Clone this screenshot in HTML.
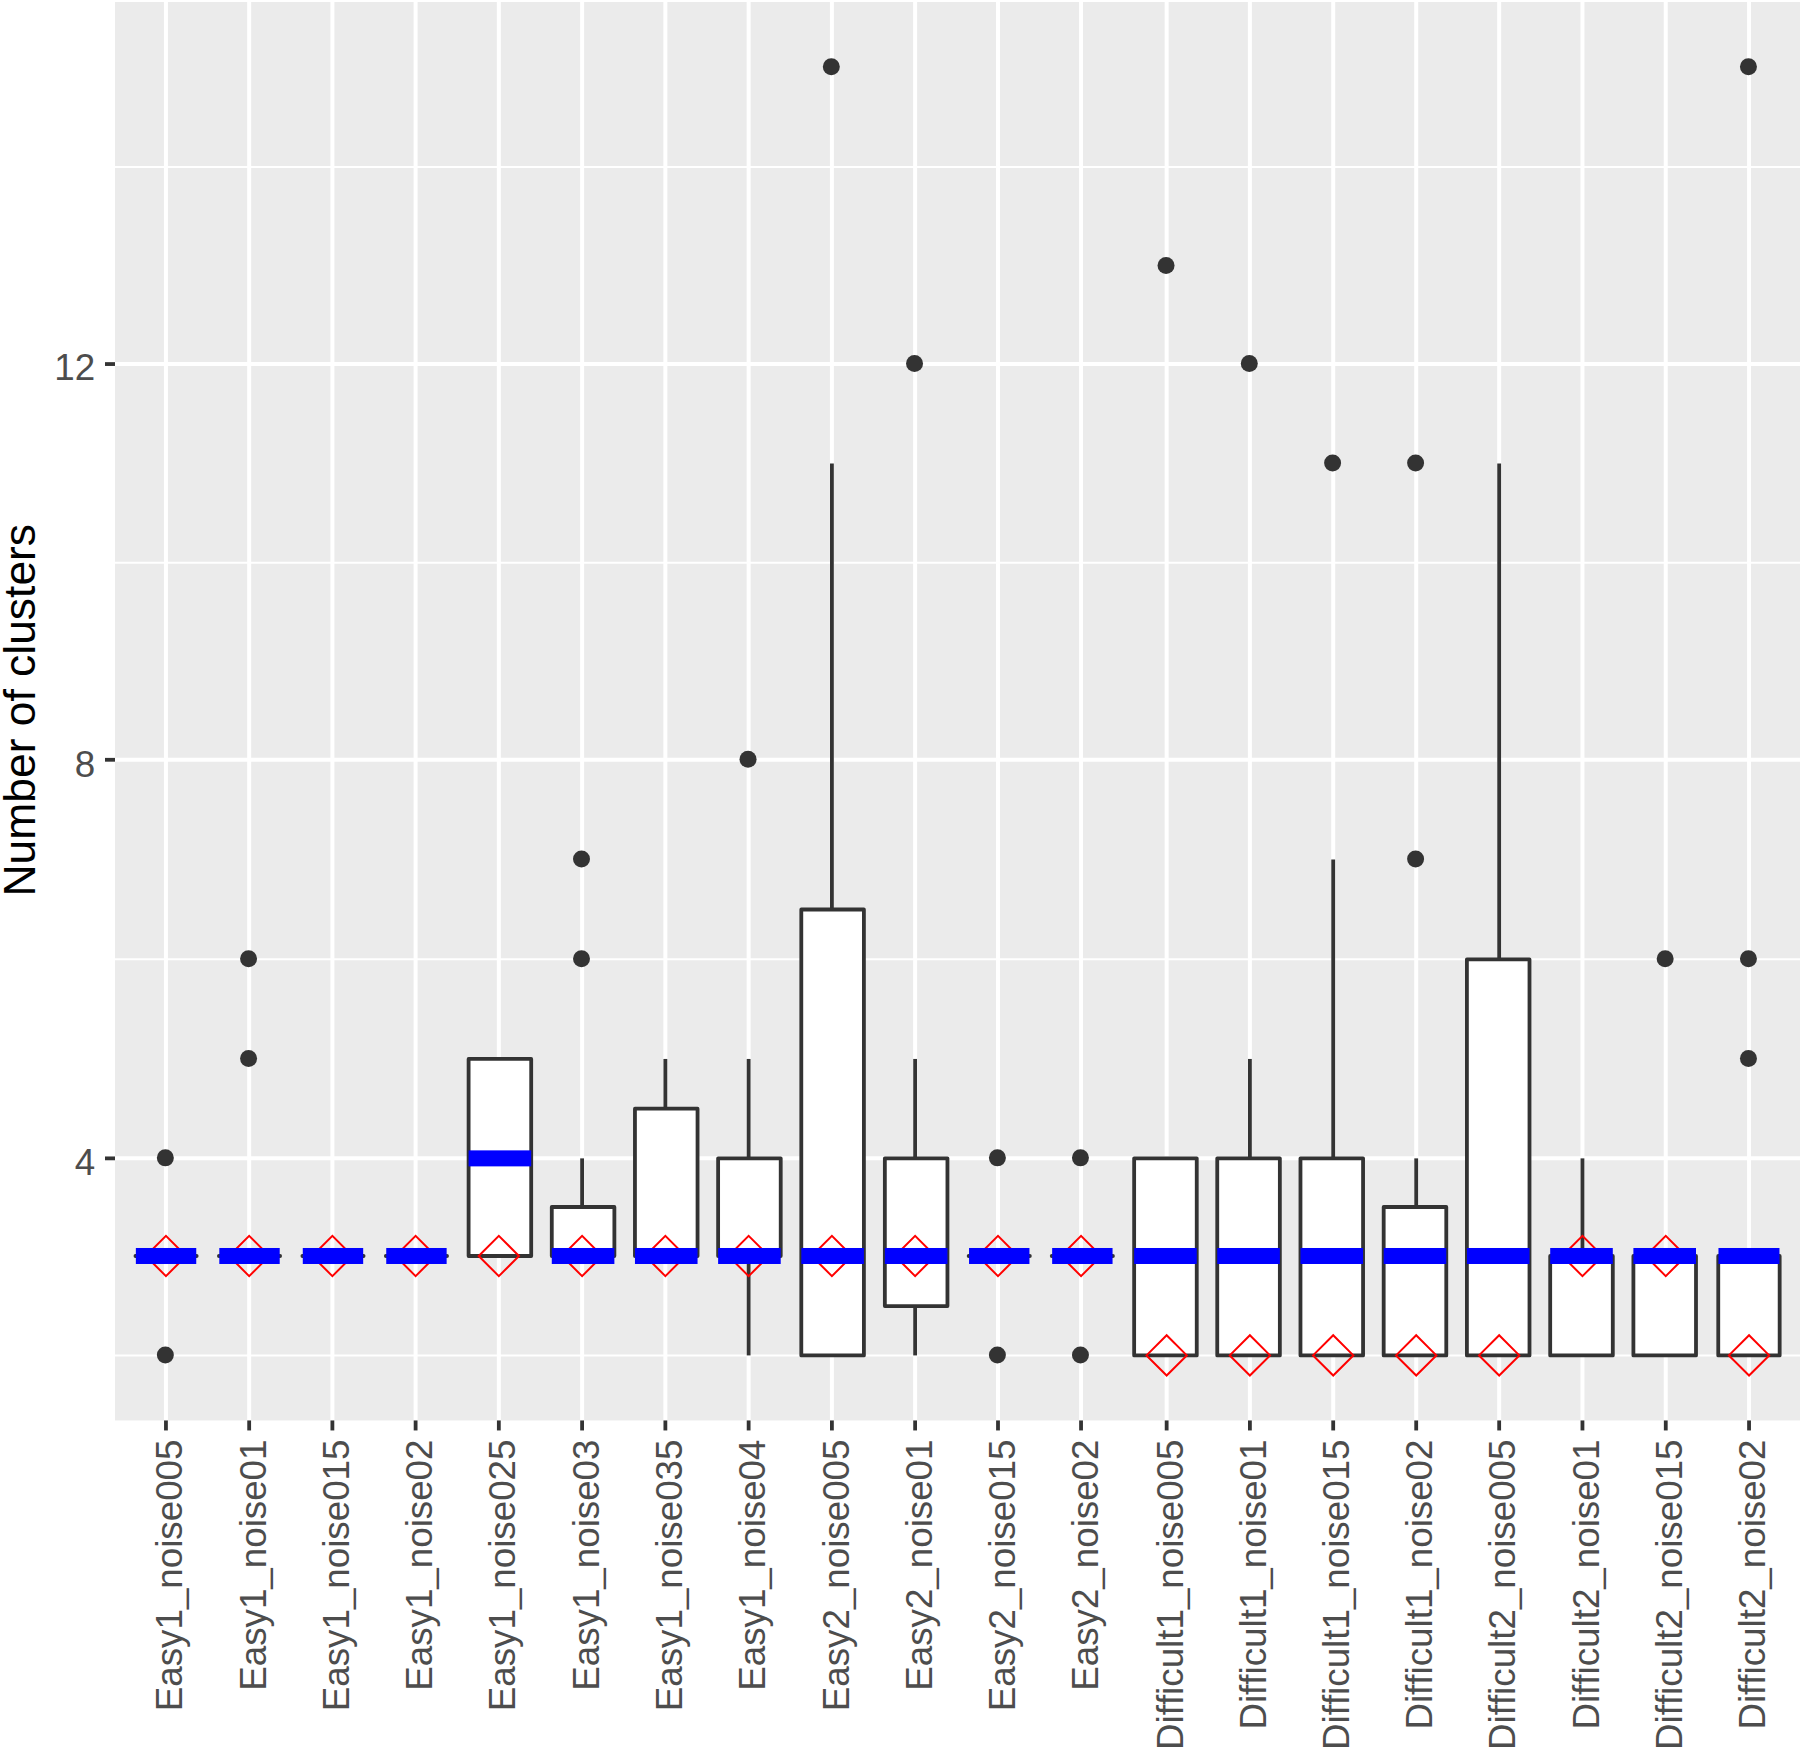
<!DOCTYPE html>
<html lang="en">
<head>
<meta charset="utf-8">
<title>Number of clusters</title>
<style>
html,body{margin:0;padding:0;background:#ffffff;}
body{width:1804px;height:1749px;overflow:hidden;}
svg{display:block;}
</style>
</head>
<body>
<svg width="1804" height="1749" viewBox="0 0 1804 1749">
<rect x="0" y="0" width="1804" height="1749" fill="#ffffff"/>
<rect x="115.0" y="2.0" width="1685.0" height="1418.45" fill="#EBEBEB"/>
<g stroke="#ffffff" stroke-width="2.0" fill="none">
<line x1="115.0" x2="1800.0" y1="1355.41" y2="1355.41"/>
<line x1="115.0" x2="1800.0" y1="959.28" y2="959.28"/>
<line x1="115.0" x2="1800.0" y1="562.70" y2="562.70"/>
<line x1="115.0" x2="1800.0" y1="166.92" y2="166.92"/>
</g>
<g stroke="#ffffff" stroke-width="4.0" fill="none">
<line x1="115.0" x2="1800.0" y1="1158.37" y2="1158.37"/>
<line x1="115.0" x2="1800.0" y1="759.79" y2="759.79"/>
<line x1="115.0" x2="1800.0" y1="364.06" y2="364.06"/>
<line x1="165.95" x2="165.95" y1="2.0" y2="1420.45"/>
<line x1="249.17" x2="249.17" y1="2.0" y2="1420.45"/>
<line x1="332.39" x2="332.39" y1="2.0" y2="1420.45"/>
<line x1="415.61" x2="415.61" y1="2.0" y2="1420.45"/>
<line x1="498.83" x2="498.83" y1="2.0" y2="1420.45"/>
<line x1="582.10" x2="582.10" y1="2.0" y2="1420.45"/>
<line x1="665.37" x2="665.37" y1="2.0" y2="1420.45"/>
<line x1="748.64" x2="748.64" y1="2.0" y2="1420.45"/>
<line x1="831.91" x2="831.91" y1="2.0" y2="1420.45"/>
<line x1="915.13" x2="915.13" y1="2.0" y2="1420.45"/>
<line x1="998.00" x2="998.00" y1="2.0" y2="1420.45"/>
<line x1="1081.05" x2="1081.05" y1="2.0" y2="1420.45"/>
<line x1="1166.65" x2="1166.65" y1="2.0" y2="1420.45"/>
<line x1="1249.90" x2="1249.90" y1="2.0" y2="1420.45"/>
<line x1="1333.20" x2="1333.20" y1="2.0" y2="1420.45"/>
<line x1="1416.20" x2="1416.20" y1="2.0" y2="1420.45"/>
<line x1="1499.17" x2="1499.17" y1="2.0" y2="1420.45"/>
<line x1="1582.46" x2="1582.46" y1="2.0" y2="1420.45"/>
<line x1="1665.76" x2="1665.76" y1="2.0" y2="1420.45"/>
<line x1="1749.05" x2="1749.05" y1="2.0" y2="1420.45"/>
</g>
<g stroke="#333333" stroke-width="3.8" fill="#ffffff" stroke-linejoin="round">
<circle cx="165.35" cy="1157.87" r="8.5" fill="#333333" stroke="none"/>
<circle cx="165.35" cy="1354.91" r="8.5" fill="#333333" stroke="none"/>
<line x1="135.45" x2="196.65" y1="1255.99" y2="1255.99" stroke-linecap="round"/>
<circle cx="248.57" cy="1058.45" r="8.5" fill="#333333" stroke="none"/>
<circle cx="248.57" cy="958.78" r="8.5" fill="#333333" stroke="none"/>
<line x1="218.91" x2="280.11" y1="1255.99" y2="1255.99" stroke-linecap="round"/>
<line x1="302.38" x2="363.58" y1="1255.99" y2="1255.99" stroke-linecap="round"/>
<line x1="385.84" x2="447.04" y1="1255.99" y2="1255.99" stroke-linecap="round"/>
<rect x="468.60" y="1058.95" width="62.6" height="197.04"/>
<circle cx="581.50" cy="958.78" r="8.5" fill="#333333" stroke="none"/>
<circle cx="581.50" cy="859.11" r="8.5" fill="#333333" stroke="none"/>
<line x1="582.10" x2="582.10" y1="1207.00" y2="1158.37"/>
<rect x="551.78" y="1207.00" width="62.6" height="48.99"/>
<line x1="665.37" x2="665.37" y1="1108.63" y2="1058.95"/>
<rect x="634.95" y="1108.63" width="62.6" height="147.36"/>
<circle cx="748.04" cy="759.29" r="8.5" fill="#333333" stroke="none"/>
<line x1="748.64" x2="748.64" y1="1158.37" y2="1058.95"/>
<line x1="748.64" x2="748.64" y1="1255.99" y2="1355.41"/>
<rect x="718.12" y="1158.37" width="62.6" height="97.62"/>
<circle cx="831.31" cy="66.70" r="8.5" fill="#333333" stroke="none"/>
<line x1="831.91" x2="831.91" y1="909.49" y2="463.48"/>
<rect x="801.30" y="909.49" width="62.6" height="445.92"/>
<circle cx="914.53" cy="363.56" r="8.5" fill="#333333" stroke="none"/>
<line x1="915.13" x2="915.13" y1="1158.37" y2="1058.95"/>
<line x1="915.13" x2="915.13" y1="1306.08" y2="1355.41"/>
<rect x="884.85" y="1158.37" width="62.6" height="147.71"/>
<circle cx="997.40" cy="1157.87" r="8.5" fill="#333333" stroke="none"/>
<circle cx="997.40" cy="1354.91" r="8.5" fill="#333333" stroke="none"/>
<line x1="968.65" x2="1029.85" y1="1255.99" y2="1255.99" stroke-linecap="round"/>
<circle cx="1080.45" cy="1157.87" r="8.5" fill="#333333" stroke="none"/>
<circle cx="1080.45" cy="1354.91" r="8.5" fill="#333333" stroke="none"/>
<line x1="1051.75" x2="1112.95" y1="1255.99" y2="1255.99" stroke-linecap="round"/>
<circle cx="1166.05" cy="265.39" r="8.5" fill="#333333" stroke="none"/>
<rect x="1134.15" y="1158.37" width="62.6" height="197.04"/>
<circle cx="1249.30" cy="363.56" r="8.5" fill="#333333" stroke="none"/>
<line x1="1249.90" x2="1249.90" y1="1158.37" y2="1058.95"/>
<rect x="1217.25" y="1158.37" width="62.6" height="197.04"/>
<circle cx="1332.60" cy="462.98" r="8.5" fill="#333333" stroke="none"/>
<line x1="1333.20" x2="1333.20" y1="1158.37" y2="859.61"/>
<rect x="1300.47" y="1158.37" width="62.6" height="197.04"/>
<circle cx="1415.60" cy="859.11" r="8.5" fill="#333333" stroke="none"/>
<circle cx="1415.60" cy="462.98" r="8.5" fill="#333333" stroke="none"/>
<line x1="1416.20" x2="1416.20" y1="1207.00" y2="1158.37"/>
<rect x="1383.68" y="1207.00" width="62.6" height="148.41"/>
<line x1="1499.17" x2="1499.17" y1="959.28" y2="463.48"/>
<rect x="1466.90" y="959.28" width="62.6" height="396.13"/>
<line x1="1582.46" x2="1582.46" y1="1255.99" y2="1158.37"/>
<rect x="1550.20" y="1255.99" width="62.6" height="99.42"/>
<circle cx="1665.16" cy="958.78" r="8.5" fill="#333333" stroke="none"/>
<rect x="1633.40" y="1255.99" width="62.6" height="99.42"/>
<circle cx="1748.45" cy="1058.45" r="8.5" fill="#333333" stroke="none"/>
<circle cx="1748.45" cy="958.78" r="8.5" fill="#333333" stroke="none"/>
<circle cx="1748.45" cy="66.70" r="8.5" fill="#333333" stroke="none"/>
<rect x="1718.26" y="1255.99" width="61.4" height="99.42"/>
</g>
<g stroke="#FF0000" stroke-width="2.0" fill="none" stroke-linejoin="miter">
<path d="M145.80 1255.99L165.95 1235.84L186.10 1255.99L165.95 1276.14Z"/>
<path d="M229.02 1255.99L249.17 1235.84L269.32 1255.99L249.17 1276.14Z"/>
<path d="M312.24 1255.99L332.39 1235.84L352.54 1255.99L332.39 1276.14Z"/>
<path d="M395.46 1255.99L415.61 1235.84L435.76 1255.99L415.61 1276.14Z"/>
<path d="M478.68 1255.99L498.83 1235.84L518.98 1255.99L498.83 1276.14Z"/>
<path d="M561.95 1255.99L582.10 1235.84L602.25 1255.99L582.10 1276.14Z"/>
<path d="M645.22 1255.99L665.37 1235.84L685.52 1255.99L665.37 1276.14Z"/>
<path d="M728.49 1255.99L748.64 1235.84L768.79 1255.99L748.64 1276.14Z"/>
<path d="M811.76 1255.99L831.91 1235.84L852.06 1255.99L831.91 1276.14Z"/>
<path d="M894.98 1255.99L915.13 1235.84L935.28 1255.99L915.13 1276.14Z"/>
<path d="M977.85 1255.99L998.00 1235.84L1018.15 1255.99L998.00 1276.14Z"/>
<path d="M1060.90 1255.99L1081.05 1235.84L1101.20 1255.99L1081.05 1276.14Z"/>
<path d="M1146.50 1355.41L1166.65 1335.26L1186.80 1355.41L1166.65 1375.56Z"/>
<path d="M1229.75 1355.41L1249.90 1335.26L1270.05 1355.41L1249.90 1375.56Z"/>
<path d="M1313.05 1355.41L1333.20 1335.26L1353.35 1355.41L1333.20 1375.56Z"/>
<path d="M1396.05 1355.41L1416.20 1335.26L1436.35 1355.41L1416.20 1375.56Z"/>
<path d="M1479.02 1355.41L1499.17 1335.26L1519.32 1355.41L1499.17 1375.56Z"/>
<path d="M1562.31 1255.99L1582.46 1235.84L1602.61 1255.99L1582.46 1276.14Z"/>
<path d="M1645.61 1255.99L1665.76 1235.84L1685.91 1255.99L1665.76 1276.14Z"/>
<path d="M1728.90 1355.41L1749.05 1335.26L1769.20 1355.41L1749.05 1375.56Z"/>
</g>
<g fill="#0000FF">
<rect x="135.85" y="1247.99" width="60.40" height="16.0"/>
<rect x="219.31" y="1247.99" width="60.40" height="16.0"/>
<rect x="302.78" y="1247.99" width="60.40" height="16.0"/>
<rect x="386.24" y="1247.99" width="60.40" height="16.0"/>
<rect x="468.60" y="1150.37" width="62.60" height="16.0"/>
<rect x="551.78" y="1247.99" width="62.60" height="16.0"/>
<rect x="634.95" y="1247.99" width="62.60" height="16.0"/>
<rect x="718.12" y="1247.99" width="62.60" height="16.0"/>
<rect x="801.30" y="1247.99" width="62.60" height="16.0"/>
<rect x="884.85" y="1247.99" width="62.60" height="16.0"/>
<rect x="969.05" y="1247.99" width="60.40" height="16.0"/>
<rect x="1052.15" y="1247.99" width="60.40" height="16.0"/>
<rect x="1134.15" y="1247.99" width="62.60" height="16.0"/>
<rect x="1217.25" y="1247.99" width="62.60" height="16.0"/>
<rect x="1300.47" y="1247.99" width="62.60" height="16.0"/>
<rect x="1383.68" y="1247.99" width="62.60" height="16.0"/>
<rect x="1466.90" y="1247.99" width="62.60" height="16.0"/>
<rect x="1550.20" y="1247.99" width="62.60" height="16.0"/>
<rect x="1633.40" y="1247.99" width="62.60" height="16.0"/>
<rect x="1718.46" y="1247.99" width="61.00" height="16.0"/>
</g>
<g stroke="#333333" stroke-width="3.8" fill="none">
<line x1="105.0" x2="115.0" y1="1158.37" y2="1158.37"/>
<line x1="105.0" x2="115.0" y1="759.79" y2="759.79"/>
<line x1="105.0" x2="115.0" y1="364.06" y2="364.06"/>
<line x1="165.95" x2="165.95" y1="1420.45" y2="1430.45"/>
<line x1="249.17" x2="249.17" y1="1420.45" y2="1430.45"/>
<line x1="332.39" x2="332.39" y1="1420.45" y2="1430.45"/>
<line x1="415.61" x2="415.61" y1="1420.45" y2="1430.45"/>
<line x1="498.83" x2="498.83" y1="1420.45" y2="1430.45"/>
<line x1="582.10" x2="582.10" y1="1420.45" y2="1430.45"/>
<line x1="665.37" x2="665.37" y1="1420.45" y2="1430.45"/>
<line x1="748.64" x2="748.64" y1="1420.45" y2="1430.45"/>
<line x1="831.91" x2="831.91" y1="1420.45" y2="1430.45"/>
<line x1="915.13" x2="915.13" y1="1420.45" y2="1430.45"/>
<line x1="998.00" x2="998.00" y1="1420.45" y2="1430.45"/>
<line x1="1081.05" x2="1081.05" y1="1420.45" y2="1430.45"/>
<line x1="1166.65" x2="1166.65" y1="1420.45" y2="1430.45"/>
<line x1="1249.90" x2="1249.90" y1="1420.45" y2="1430.45"/>
<line x1="1333.20" x2="1333.20" y1="1420.45" y2="1430.45"/>
<line x1="1416.20" x2="1416.20" y1="1420.45" y2="1430.45"/>
<line x1="1499.17" x2="1499.17" y1="1420.45" y2="1430.45"/>
<line x1="1582.46" x2="1582.46" y1="1420.45" y2="1430.45"/>
<line x1="1665.76" x2="1665.76" y1="1420.45" y2="1430.45"/>
<line x1="1749.05" x2="1749.05" y1="1420.45" y2="1430.45"/>
</g>
<g font-family="'Liberation Sans', Arial, Helvetica, sans-serif" font-size="36.75" fill="#4D4D4D" style="font-variant-ligatures:none;font-kerning:none">
<text x="95.2" y="1174.8" text-anchor="end">4</text>
<text x="95.2" y="777.4" text-anchor="end">8</text>
<text x="95.2" y="380.3" text-anchor="end">12</text>
<text transform="translate(182.32 1439.5) rotate(-90)" text-anchor="end">Easy1_noise005</text>
<text transform="translate(265.60 1439.5) rotate(-90)" text-anchor="end">Easy1_noise01</text>
<text transform="translate(348.87 1439.5) rotate(-90)" text-anchor="end">Easy1_noise015</text>
<text transform="translate(432.13 1439.5) rotate(-90)" text-anchor="end">Easy1_noise02</text>
<text transform="translate(515.40 1439.5) rotate(-90)" text-anchor="end">Easy1_noise025</text>
<text transform="translate(598.70 1439.5) rotate(-90)" text-anchor="end">Easy1_noise03</text>
<text transform="translate(682.00 1439.5) rotate(-90)" text-anchor="end">Easy1_noise035</text>
<text transform="translate(765.29 1439.5) rotate(-90)" text-anchor="end">Easy1_noise04</text>
<text transform="translate(848.58 1439.5) rotate(-90)" text-anchor="end">Easy2_noise005</text>
<text transform="translate(931.85 1439.5) rotate(-90)" text-anchor="end">Easy2_noise01</text>
<text transform="translate(1014.95 1439.5) rotate(-90)" text-anchor="end">Easy2_noise015</text>
<text transform="translate(1098.13 1439.5) rotate(-90)" text-anchor="end">Easy2_noise02</text>
<text transform="translate(1182.59 1439.5) rotate(-90)" text-anchor="end">Difficult1_noise005</text>
<text transform="translate(1265.88 1439.5) rotate(-90)" text-anchor="end">Difficult1_noise01</text>
<text transform="translate(1349.19 1439.5) rotate(-90)" text-anchor="end">Difficult1_noise015</text>
<text transform="translate(1432.35 1439.5) rotate(-90)" text-anchor="end">Difficult1_noise02</text>
<text transform="translate(1515.49 1439.5) rotate(-90)" text-anchor="end">Difficult2_noise005</text>
<text transform="translate(1598.80 1439.5) rotate(-90)" text-anchor="end">Difficult2_noise01</text>
<text transform="translate(1682.11 1439.5) rotate(-90)" text-anchor="end">Difficult2_noise015</text>
<text transform="translate(1765.41 1439.5) rotate(-90)" text-anchor="end">Difficult2_noise02</text>
</g>
<text transform="translate(34.6 710.2) rotate(-90)" text-anchor="middle" font-family="'Liberation Sans', Arial, Helvetica, sans-serif" font-size="44.4" fill="#000000" style="font-variant-ligatures:none;font-kerning:none">Number of clusters</text>
</svg>
</body>
</html>
